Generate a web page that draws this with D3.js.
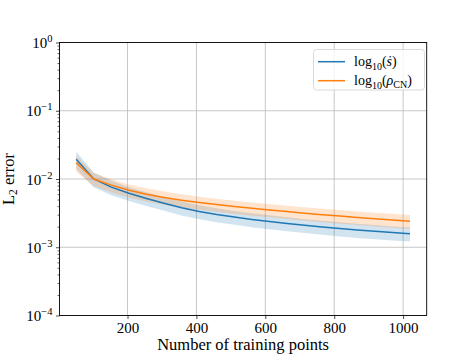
<!DOCTYPE html>
<html><head><meta charset="utf-8">
<script src="https://cdn.jsdelivr.net/npm/d3@7"></script>
<style>body{margin:0;background:#fff}svg{display:block}text{font-family:"Liberation Serif","DejaVu Serif",serif;fill:#000}</style>
</head><body>
<svg id="c" width="474" height="355"></svg>
<script>
const trainingPoints = [51,102,153,204,255,306,357,408,459,510,561,612,663,714,765,816,867,918,969,1020];
const sMean = [0.01950,0.01000,0.00759,0.00617,0.00519,0.00442,0.00380,0.00335,0.00302,0.00277,0.00256,0.00239,0.00223,0.00210,0.00198,0.00188,0.00179,0.00171,0.00164,0.00158];
const sStd  = [0.0055,0.0024,0.0018,0.0014,0.00118,0.00100,0.00087,0.00077,0.00070,0.00064,0.00059,0.00055,0.00051,0.00048,0.00046,0.00044,0.00042,0.00040,0.00038,0.00037];
const rhoMean = [0.01738,0.01000,0.00813,0.00684,0.00596,0.00537,0.00490,0.00452,0.00422,0.00395,0.00372,0.00352,0.00333,0.00316,0.00300,0.00286,0.00273,0.00261,0.00251,0.00241];
const rhoStd  = [0.0045,0.0022,0.0018,0.0015,0.00133,0.00118,0.00108,0.00099,0.00093,0.00087,0.00082,0.00078,0.00074,0.00071,0.00068,0.00065,0.00062,0.00060,0.00058,0.00056];
const xTicks = [200,400,600,800,1000];
const yTickExps = [0,-1,-2,-3,-4];

const svg = d3.select("#c");
const L = 59.5, T = 42.5, R = 426.7, B = 315.5;
const xmin = d3.min(trainingPoints), xmax = d3.max(trainingPoints), pad = (xmax - xmin) * 0.05;
const x = d3.scaleLinear().domain([xmin - pad, xmax + pad]).range([L, R]);
const y = d3.scaleLog().domain([1e-4, 1]).range([B, T]);

// grid
const g = svg.append("g");
xTicks.forEach(t => g.append("line").attr("x1", x(t)).attr("x2", x(t)).attr("y1", T).attr("y2", B).attr("stroke", "#b0b0b0").attr("stroke-width", 0.7));
yTickExps.forEach(e => g.append("line").attr("x1", L).attr("x2", R).attr("y1", y(Math.pow(10, e))).attr("y2", y(Math.pow(10, e))).attr("stroke", "#b0b0b0").attr("stroke-width", 0.7));

const series = [
  {mean: sMean, std: sStd, color: "#1f77b4"},
  {mean: rhoMean, std: rhoStd, color: "#ff7f0e"}
];
svg.append("clipPath").attr("id", "clp").append("rect").attr("x", L).attr("y", T).attr("width", R - L).attr("height", B - T);
const plot = svg.append("g").attr("clip-path", "url(#clp)");
series.forEach(s => {
  const area = d3.area().x((d, i) => x(trainingPoints[i])).y0((d, i) => y(Math.max(1e-5, s.mean[i] - s.std[i]))).y1((d, i) => y(s.mean[i] + s.std[i]));
  plot.append("path").attr("d", area(s.mean)).attr("fill", s.color).attr("fill-opacity", 0.2);
});
series.forEach(s => {
  const line = d3.line().x((d, i) => x(trainingPoints[i])).y(d => y(d));
  plot.append("path").attr("d", line(s.mean)).attr("fill", "none").attr("stroke", s.color).attr("stroke-width", 1.5);
});

// axes
const xAxis = svg.append("g").attr("transform", `translate(0,${B})`).call(d3.axisBottom(x).tickValues(xTicks).tickSize(3.5).tickFormat(d3.format("d")));
xAxis.select(".domain").remove();
xAxis.selectAll("text").attr("font-size", 15).attr("y", 7).attr("dy", "0.71em").style("font-family", '"Liberation Serif",serif');
xAxis.selectAll("line").attr("stroke", "#000").attr("stroke-width", 0.7);

const minor = [];
for (let e = -4; e < 0; e++) for (let m = 2; m <= 9; m++) minor.push(m * Math.pow(10, e));
const yAxisMinor = svg.append("g").attr("transform", `translate(${L},0)`).call(d3.axisLeft(y).tickValues(minor).tickSize(2).tickFormat(""));
yAxisMinor.select(".domain").remove();
yAxisMinor.selectAll("line").attr("stroke", "#000").attr("stroke-width", 0.6);
const yAxis = svg.append("g").attr("transform", `translate(${L},0)`).call(d3.axisLeft(y).tickValues(yTickExps.map(e => Math.pow(10, e))).tickSize(3.5).tickFormat(""));
yAxis.select(".domain").remove();
yAxis.selectAll("line").attr("stroke", "#000").attr("stroke-width", 0.7);
yTickExps.forEach(e => {
  const t = svg.append("text").attr("x", L - 7).attr("y", y(Math.pow(10, e)) + 5.5).attr("text-anchor", "end").attr("font-size", 15);
  t.append("tspan").text("10");
  t.append("tspan").attr("font-size", 10.5).attr("dy", -6).text(e === 0 ? "0" : "\u2212" + (-e));
});

// frame
svg.append("rect").attr("x", L).attr("y", T).attr("width", R - L).attr("height", B - T).attr("fill", "none").attr("stroke", "#000").attr("stroke-width", 0.9);

// labels
svg.append("text").attr("x", (L + R) / 2).attr("y", 350).attr("text-anchor", "middle").attr("font-size", 16.5).text("Number of training points");
const yl = svg.append("text").attr("transform", `translate(14,${(T + B) / 2}) rotate(-90)`).attr("text-anchor", "middle").attr("font-size", 16.5);
yl.append("tspan").text("L");
yl.append("tspan").attr("font-size", 11.5).attr("dy", 3).text("2");
yl.append("tspan").attr("dy", -3).text(" error");

// legend
const lg = svg.append("g");
lg.append("rect").attr("x", 313.5).attr("y", 49.5).attr("width", 111).attr("height", 40.5).attr("rx", 3).attr("fill", "#fff").attr("fill-opacity", 0.8).attr("stroke", "#d0d0d0").attr("stroke-width", 0.8);
const items = [
  {color: "#1f77b4", parts: [["log", 0, 14], ["10", 4, 10], ["(", -4, 14], ["\u1E61", 0, 14, "italic"], [")", 0, 14]]},
  {color: "#ff7f0e", parts: [["log", 0, 14], ["10", 4, 10], ["(", -4, 14], ["\u03C1", 0, 14, "italic"], ["CN", 3, 10], [")", -3, 14]]}
];
items.forEach((it, i) => {
  const yy = 61.7 + i * 19;
  lg.append("line").attr("x1", 318).attr("x2", 345).attr("y1", yy).attr("y2", yy).attr("stroke", it.color).attr("stroke-width", 1.5);
  const t = lg.append("text").attr("x", 354).attr("y", yy + 4.5).attr("font-size", 14);
  it.parts.forEach(p => {
    const ts = t.append("tspan").attr("font-size", p[2]).attr("dy", p[1]).text(p[0]);
    if (p[3]) ts.attr("font-style", p[3]);
  });
});
</script>
</body></html>
